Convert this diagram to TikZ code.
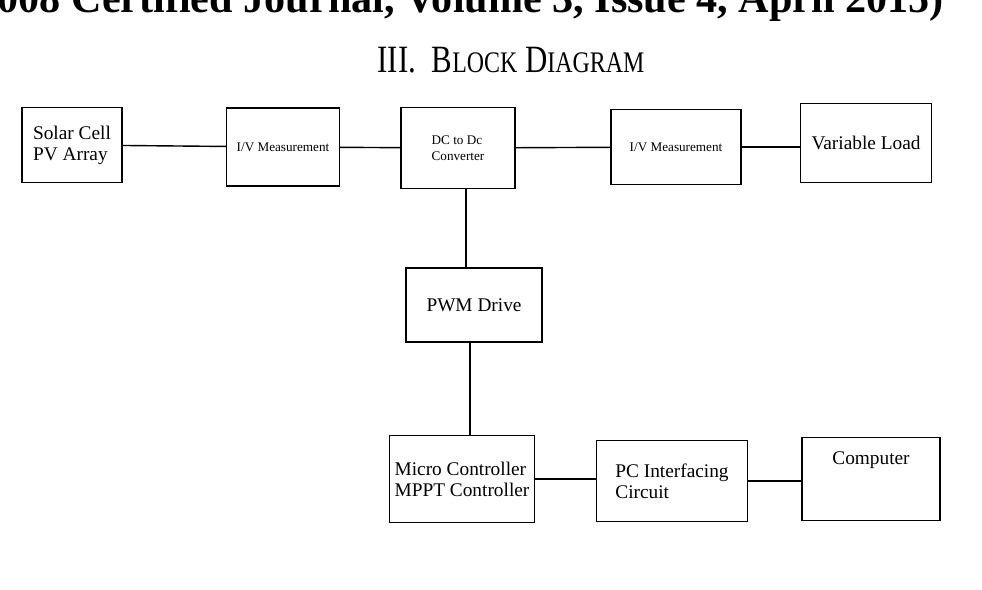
\documentclass[tikz,border=0pt]{standalone}
\usepackage{fontspec}
\setmainfont{Liberation Serif}
\usetikzlibrary{positioning}
\begin{document}
\begin{tikzpicture}[x=0.02cm, y=-0.02cm,
    block/.style={rectangle, draw, thick, align=left, inner sep=2pt,
                  font=\fontsize{11}{12}\selectfont},
    smallblock/.style={block, font=\fontsize{7.5}{9}\selectfont},
    link/.style={thick},
  ]
  \useasboundingbox (0,0) rectangle (982,590);

  % Titles
  \node[font=\bfseries\fontsize{24}{26}\selectfont, anchor=east] (journal) at (950,2)
    {ISO 9001:2008 Certified Journal, Volume 3, Issue 4, April 2015)};
  \node[font=\fontsize{22}{24}\selectfont, xscale=0.8] (heading) at (511,60)
    {III.\ \ B{\fontsize{17}{20}\selectfont LOCK} D{\fontsize{17}{20}\selectfont IAGRAM}};

  % Top row
  \node[block, minimum width=2cm, minimum height=1.5cm] (solar) at (72,145)
    {Solar Cell\\PV Array};
  \node[smallblock, minimum width=2.26cm, minimum height=1.56cm] (ivin) at (283,147)
    {I/V Measurement};
  \node[smallblock, minimum width=2.28cm, minimum height=1.62cm] (dcdc) at (458,148)
    {DC to Dc\\Converter};
  \node[smallblock, minimum width=2.6cm, minimum height=1.5cm] (ivout) at (676,147)
    {I/V Measurement};
  \node[block, minimum width=2.62cm, minimum height=1.58cm] (load) at (866,143)
    {Variable Load};

  % Control chain
  \node[block, minimum width=2.72cm, minimum height=1.48cm] (pwm) at (474,305)
    {PWM Drive};
  \node[block, minimum width=2.9cm, minimum height=1.74cm] (micro) at (462,479)
    {Micro Controller\\MPPT Controller};
  \node[block, minimum width=3.02cm, minimum height=1.62cm] (pc) at (672,481)
    {PC Interfacing\\Circuit};
  \node[block, minimum width=2.76cm, minimum height=1.66cm] (computer) at (871,479)
    {Computer\\[12pt]};

  % Connections
  \coordinate (dcfoot) at (466,189);
  \coordinate (pwmfoot) at (470,342);
  \draw[link] (solar) -- (ivin);
  \draw[link] (ivin) -- (dcdc);
  \draw[link] (dcdc) -- (ivout);
  \draw[link] (ivout) -- (load.west |- ivout);
  \draw[link] (dcfoot) -- (pwm.north -| dcfoot);
  \draw[link] (pwmfoot) -- (micro.north -| pwmfoot);
  \draw[link] (micro.east) -- (pc.west |- micro.east);
  \draw[link] (pc.east) -- (computer.west |- pc.east);
\end{tikzpicture}
\end{document}
